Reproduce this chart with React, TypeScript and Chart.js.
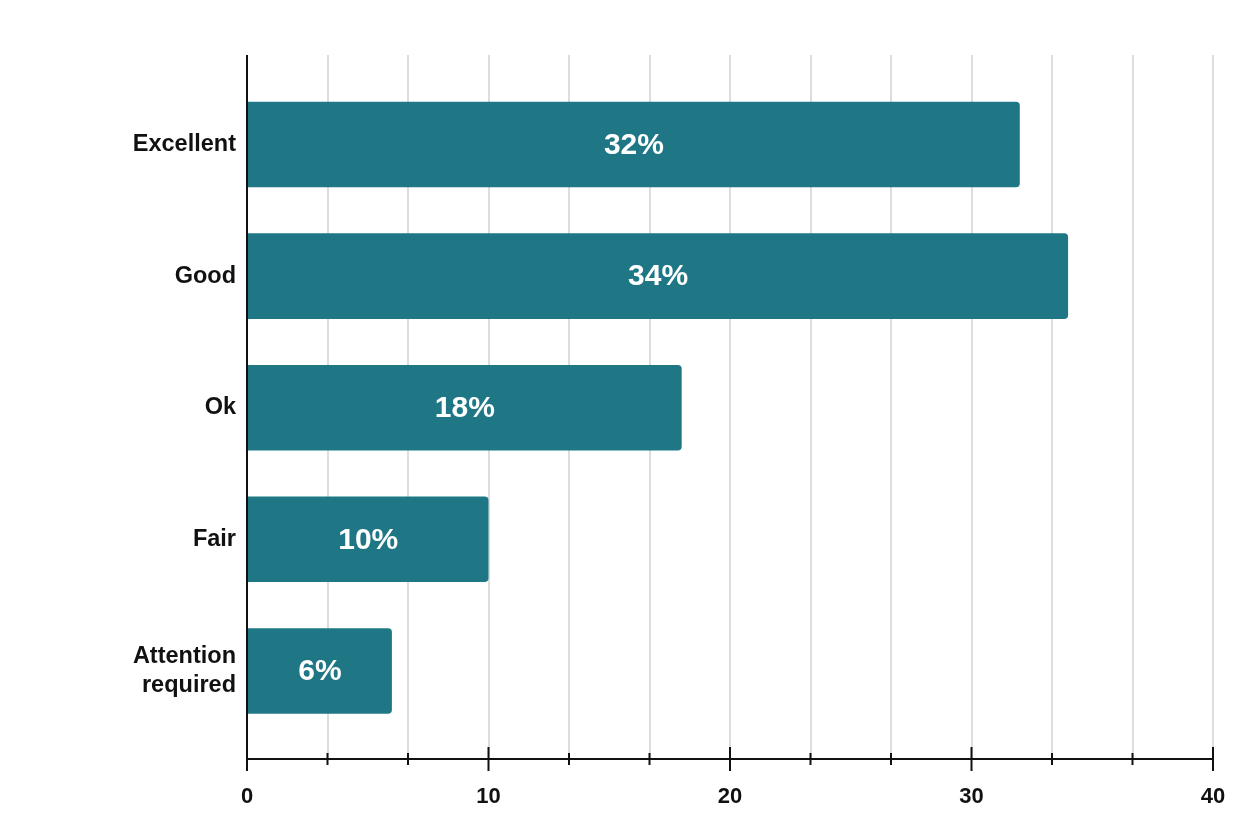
import React, { useEffect, useRef } from 'react';
import { Chart, registerables } from 'chart.js';

Chart.register(...registerables);

const categories = ['Excellent', 'Good', 'Ok', 'Fair', 'Attention required'];
const categoryLines = [['Excellent'], ['Good'], ['Ok'], ['Fair'], ['Attention', 'required']];
const values = [32, 34, 18, 10, 6];
const valueLabels = ['32%', '34%', '18%', '10%', '6%'];
const xTickLabels = [0, 10, 20, 30, 40];
const minorPerMajor = 3;

const BAR_COLOR = '#1f7786';
const AXIS_COLOR = '#111111';
const GRID_COLOR = '#dddddd';
const FONT = '"Liberation Sans", Arial, sans-serif';

const axisPlugin = {
  id: 'customAxis',
  afterDatasetsDraw(chart: any) {
    const ctx = chart.ctx;
    const meta = chart.getDatasetMeta(0);
    ctx.save();
    ctx.fillStyle = '#ffffff';
    ctx.font = `bold 30px ${FONT}`;
    ctx.textAlign = 'center';
    ctx.textBaseline = 'middle';
    meta.data.forEach((el: any, i: number) => {
      const cx = (el.x + el.base) / 2;
      ctx.fillText(valueLabels[i], cx, el.y + 1);
    });
    ctx.restore();
  },
  afterDraw(chart: any) {
    const ctx = chart.ctx;
    const area = chart.chartArea;
    const xs = chart.scales.x;
    ctx.save();
    ctx.strokeStyle = AXIS_COLOR;
    ctx.lineWidth = 2;
    ctx.beginPath();
    ctx.moveTo(area.left, area.top);
    ctx.lineTo(area.left, area.bottom);
    ctx.stroke();
    ctx.beginPath();
    ctx.moveTo(area.left - 1, area.bottom);
    ctx.lineTo(area.right + 1, area.bottom);
    ctx.stroke();
    xs.ticks.forEach((t: any) => {
      const px = xs.getPixelForValue(t.value);
      const major = xTickLabels.some((v) => Math.abs(v - t.value) < 1e-6);
      const half = major ? 12 : 6;
      ctx.beginPath();
      ctx.moveTo(px, area.bottom - half);
      ctx.lineTo(px, area.bottom + half);
      ctx.stroke();
    });
    ctx.restore();
  },
};

export default function App() {
  const ref = useRef<HTMLCanvasElement>(null);

  useEffect(() => {
    if (!ref.current) return;
    const xMax = xTickLabels[xTickLabels.length - 1];
    const xStep = (xTickLabels[1] - xTickLabels[0]) / minorPerMajor;
    const chart = new Chart(ref.current, {
      type: 'bar',
      data: {
        labels: categories,
        datasets: [
          {
            data: values.map((v, i) => ({ x: v, y: i })) as any,
            backgroundColor: BAR_COLOR,
            borderWidth: 0,
            borderRadius: { topLeft: 0, bottomLeft: 0, topRight: 4, bottomRight: 4 },
            borderSkipped: false,
            barPercentage: 0.65,
            categoryPercentage: 1,
          },
        ],
      },
      options: {
        indexAxis: 'y',
        animation: false,
        responsive: true,
        maintainAspectRatio: false,
        layout: { padding: { top: 55, right: 31, left: 0, bottom: 0 } },
        plugins: {
          legend: { display: false },
          tooltip: { enabled: false },
        },
        scales: {
          x: {
            type: 'linear',
            position: 'bottom',
            min: xTickLabels[0],
            max: xMax,
            offset: false,
            afterBuildTicks: (s: any) => {
              const ticks = [];
              for (let i = 0; i <= (xTickLabels.length - 1) * minorPerMajor; i++) {
                ticks.push({ value: xTickLabels[0] + i * xStep });
              }
              s.ticks = ticks;
            },
            afterFit: (s: any) => {
              s.height = 77;
              s.paddingLeft = 0;
              s.paddingRight = 0;
            },
            grid: {
              display: true,
              color: GRID_COLOR,
              lineWidth: 2,
              drawTicks: false,
            },
            border: { display: false },
            ticks: {
              autoSkip: false,
              maxRotation: 0,
              padding: 25,
              color: AXIS_COLOR,
              font: { family: FONT, size: 22, weight: 'bold' },
              callback: (v: any) => {
                const hit = xTickLabels.find((t) => Math.abs(t - Number(v)) < 1e-6);
                return hit === undefined ? '' : String(hit);
              },
            },
          },
          y: {
            type: 'linear',
            reverse: true,
            offset: false,
            min: -0.68,
            max: 4.669,
            afterBuildTicks: (s: any) => {
              s.ticks = categories.map((_, i) => ({ value: i }));
            },
            afterFit: (s: any) => {
              s.width = 247;
              s.paddingTop = 0;
              s.paddingBottom = 0;
            },
            grid: { display: false, offset: false },
            border: { display: false },
            ticks: {
              autoSkip: false,
              padding: 3,
              color: AXIS_COLOR,
              font: { family: FONT, size: 23.5, weight: 'bold', lineHeight: 1.24 },
              callback: (v: any) => categoryLines[Number(v)] ?? '',
            },
          },
        },
      },
      plugins: [axisPlugin],
    });
    return () => chart.destroy();
  }, []);

  return (
    <div style={{ position: 'absolute', left: 0, top: 0, width: 1244, height: 836, background: '#ffffff' }}>
      <canvas ref={ref} />
    </div>
  );
}
